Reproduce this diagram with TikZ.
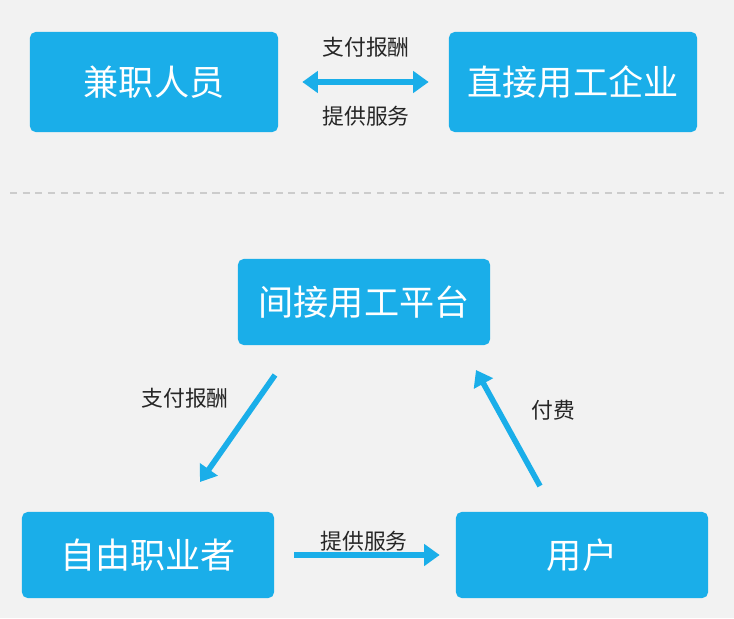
\documentclass[tikz,border=0pt]{standalone}
\usepackage{fontspec}
\setmainfont{Noto Sans CJK SC}
\usetikzlibrary{arrows.meta}
\definecolor{boxblue}{HTML}{1AAEE9}
\definecolor{bggray}{HTML}{F2F2F2}
\tikzstyle{box} = [rectangle, rounded corners=4pt, minimum width=6.2cm, minimum height=2.5cm, text centered, fill=boxblue, text=white, font=\fontsize{25}{28}\selectfont]
\tikzstyle{arrow} = [draw=boxblue, line width=4pt, -{Triangle[length=11pt,width=15pt]}]
\tikzstyle{lbl} = [font=\fontsize{15.5}{18}\selectfont, text=black!85]

\begin{document}
\begin{tikzpicture}[x=0.025cm, y=-0.025cm]
\fill [bggray] (0,0) rectangle (734,618);
\useasboundingbox (0,0) rectangle (734,618);

\node (parttime) [box] at (154,82) {兼职人员};
\node (company) [box] at (573,82) {直接用工企业};
\node (platform) [box, minimum width=6.3cm, minimum height=2.15cm] at (364,302) {间接用工平台};
\node (freelancer) [box, minimum height=2.15cm, minimum width=6.3cm] at (148,555) {自由职业者};
\node (user) [box, minimum height=2.15cm, minimum width=6.3cm] at (582,555) {用户};

\coordinate (p1) at (275,375);
\coordinate (p2) at (200,482);
\coordinate (u1) at (540,486);
\coordinate (u2) at (476,370);

\draw [draw=boxblue, line width=4pt, {Triangle[length=11pt,width=15pt]}-{Triangle[length=11pt,width=15pt]}, shorten <=0.6cm, shorten >=0.5cm] (parttime) -- (company);
\node [lbl] at (366,47) {支付报酬};
\node [lbl] at (366,116) {提供服务};

\draw [gray!40, line width=1.2pt, dash pattern=on 5pt off 4pt] (10,193) -- (724,193);

\draw [arrow] (p1) -- (p2);
\draw [arrow] (u1) -- (u2);
\draw [arrow, shorten <=0.5cm, shorten >=0.4cm] (freelancer) -- (user);
\node [lbl] at (185,398) {支付报酬};
\node [lbl] at (553,410) {付费};
\node [lbl] at (364,541) {提供服务};
\end{tikzpicture}
\end{document}
